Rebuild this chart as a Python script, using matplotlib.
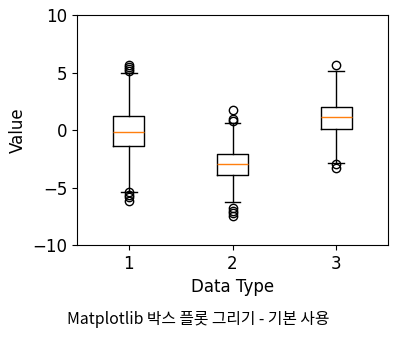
import matplotlib.pyplot as plt

# Box statistics
labels = ['1', '2', '3']
medians = [-0.15, -2.98, 1.1]
q1s = [-1.42, -3.94, 0.09]
q3s = [1.18, -2.1, 2.03]
whis_lo = [-5.4, -6.29, -2.84]
whis_hi = [4.98, 0.64, 5.16]
fliers = [
    [5.1, 5.3, 5.5, 5.65, -5.36, -5.6, -5.8, -6.2],
    [0.78, 1.0, 1.74, -6.8, -7.0, -7.25, -7.5],
    [5.65, -2.98, -3.33],
]

plt.rcParams['font.size'] = 12

fig = plt.figure(figsize=(4, 3.4), dpi=100)
ax = fig.add_axes([0.1925, 0.279, 0.7775, 0.677])

stats = []
for i in range(len(labels)):
    stats.append(dict(label=labels[i], med=medians[i], q1=q1s[i], q3=q3s[i],
                      whislo=whis_lo[i], whishi=whis_hi[i], fliers=fliers[i]))

ax.bxp(stats, positions=[1, 2, 3])
ax.set_ylim(-10, 10)
ax.set_xlabel('Data Type')
ax.set_ylabel('Value')

# caption under the chart
fig.text(0.495, 0.06, 'Matplotlib 박스 플롯 그리기 - 기본 사용', ha='center', va='center',
         fontsize=11.4, family=['Noto Sans CJK KR', 'DejaVu Sans'])

fig.savefig('out.png', dpi=100)
